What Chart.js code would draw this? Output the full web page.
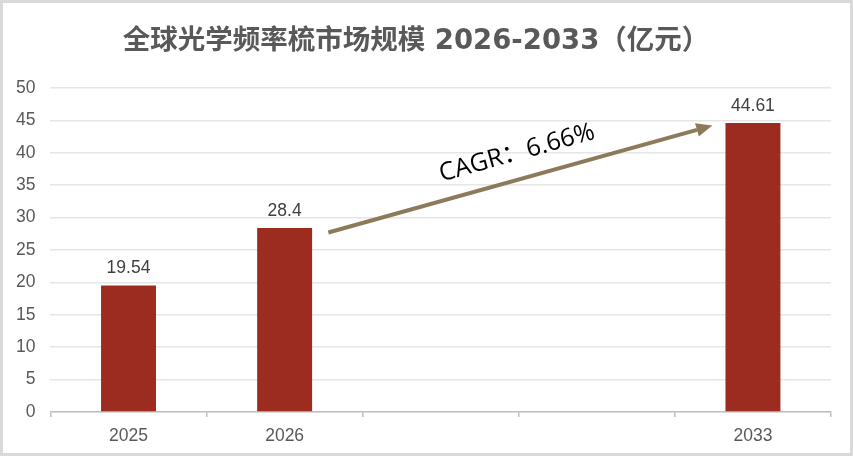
<!DOCTYPE html>
<html>
<head>
<meta charset="utf-8">
<script src="https://cdn.jsdelivr.net/npm/chart.js@4/dist/chart.umd.min.js"></script>
<style>
  html, body { margin: 0; padding: 0; background: #fff; }
  #wrap { width: 853px; height: 456px; }
</style>
</head>
<body>
<div id="wrap"><canvas id="chart" width="853" height="456"></canvas></div>
<script>
const titleText = "全球光学频率梳市场规模 2026-2033（亿元）";
const categories = ["2025", "2026", "", "", "2033"];
const marketSize = [19.54, 28.4, null, null, 44.61];
const yTicks = [0, 5, 10, 15, 20, 25, 30, 35, 40, 45, 50];
const cagrLabel = "CAGR：6.66%";
// arrow ends in data space: [category index, value]
const arrowFrom = [1.28, 27.7];
const arrowTo = [3.74, 44.2];

const barColor = "#9b2c1f";
const textGray = "#595959";
const axisFont = { family: "'Liberation Sans', Arial, sans-serif", size: 17.5 };

// white background + thin gray frame
const framePlugin = {
  id: "frame",
  beforeDraw(chart) {
    const { ctx, width, height } = chart;
    ctx.save();
    ctx.fillStyle = "#fff";
    ctx.fillRect(0, 0, width, height);
    ctx.restore();
  },
  afterDraw(chart) {
    const { ctx, width, height } = chart;
    ctx.save();
    ctx.strokeStyle = "#d9d9d9";
    ctx.lineWidth = 3;
    ctx.strokeRect(1.5, 1.5, width - 3, height - 3);
    ctx.restore();
  },
};

// value labels above bars
const valueLabels = {
  id: "valueLabels",
  afterDatasetsDraw(chart) {
    const { ctx } = chart;
    const meta = chart.getDatasetMeta(0);
    ctx.save();
    ctx.font = "17.5px 'Liberation Sans', Arial, sans-serif";
    ctx.fillStyle = "#404040";
    ctx.textAlign = "center";
    ctx.textBaseline = "bottom";
    meta.data.forEach((bar, i) => {
      const v = marketSize[i];
      if (v == null) return;
      ctx.fillText(String(v), bar.x, bar.y - 8);
    });
    ctx.restore();
  },
};

// CAGR arrow with rotated label
const cagrArrow = {
  id: "cagrArrow",
  afterDraw(chart) {
    const { ctx, scales } = chart;
    const x1 = scales.x.getPixelForValue(arrowFrom[0]);
    const y1 = scales.y.getPixelForValue(arrowFrom[1]);
    const x2 = scales.x.getPixelForValue(arrowTo[0]);
    const y2 = scales.y.getPixelForValue(arrowTo[1]);
    const ang = Math.atan2(y2 - y1, x2 - x1);
    const head = 16;
    const bx = x2 - head * Math.cos(ang);
    const by = y2 - head * Math.sin(ang);

    ctx.save();
    ctx.strokeStyle = "#8c7b5a";
    ctx.fillStyle = "#8c7b5a";
    ctx.lineWidth = 4;
    ctx.beginPath();
    ctx.moveTo(x1, y1);
    ctx.lineTo(bx, by);
    ctx.stroke();
    ctx.beginPath();
    ctx.moveTo(x2, y2);
    ctx.lineTo(bx + 7 * Math.sin(ang), by - 7 * Math.cos(ang));
    ctx.lineTo(bx - 7 * Math.sin(ang), by + 7 * Math.cos(ang));
    ctx.closePath();
    ctx.fill();

    const mx = (x1 + x2) / 2;
    const my = (y1 + y2) / 2;
    ctx.translate(mx + 27 * Math.sin(ang) + 4, my - 27 * Math.cos(ang));
    ctx.rotate(ang);
    ctx.font = "25px 'Open Sans', 'Noto Sans CJK SC', sans-serif";
    ctx.fillStyle = "#000";
    ctx.textAlign = "center";
    ctx.textBaseline = "middle";
    ctx.fillText(cagrLabel, 0, 0);
    ctx.restore();
  },
};

new Chart(document.getElementById("chart"), {
  type: "bar",
  data: {
    labels: categories,
    datasets: [
      {
        data: marketSize,
        backgroundColor: barColor,
        borderWidth: 0,
        barPercentage: 0.352,
        categoryPercentage: 1.0,
      },
    ],
  },
  options: {
    responsive: false,
    animation: false,
    layout: { padding: { left: 1, right: 22, top: 0, bottom: 0 } },
    plugins: {
      legend: { display: false },
      tooltip: { enabled: false },
      title: {
        display: true,
        text: titleText,
        color: textGray,
        font: { family: "'DejaVu Sans', 'Noto Sans CJK SC', sans-serif", size: 27.5, weight: "bold" },
        padding: { top: 25, bottom: 30 },
      },
    },
    scales: {
      x: {
        grid: {
          offset: true,
          drawOnChartArea: false,
          drawTicks: true,
          tickLength: 5,
          color: "#bfbfbf",
          lineWidth: 1.5,
        },
        border: { display: true, color: "#bfbfbf", width: 1.5 },
        ticks: {
          color: textGray,
          font: axisFont,
          padding: 9,
          maxRotation: 0,
        },
      },
      y: {
        min: 0,
        max: 50,
        afterBuildTicks(scale) {
          scale.ticks = yTicks.map((v) => ({ value: v }));
        },
        grid: { color: "#e6e6e6", lineWidth: 1.5, drawTicks: false },
        border: { display: false },
        ticks: {
          color: textGray,
          font: axisFont,
          padding: 15,
        },
      },
    },
  },
  plugins: [framePlugin, valueLabels, cagrArrow],
});
</script>
</body>
</html>
